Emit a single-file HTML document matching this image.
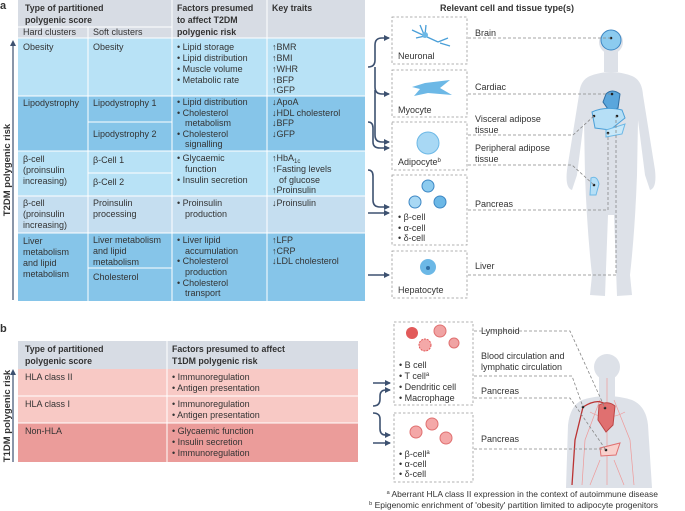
<!DOCTYPE html>
<html><head><meta charset="utf-8"><style>
html,body{margin:0;padding:0;background:#fff}
svg{display:block}
text{font-family:"Liberation Sans",sans-serif;font-size:9px;fill:#333}
.b{font-weight:bold}
.h{font-weight:bold;font-size:8.8px}
.d{stroke:#888;stroke-width:0.8;stroke-dasharray:3,2;fill:none}
.ar{stroke:#3d5170;stroke-width:1.6;fill:none}
</style></head><body>
<svg width="685" height="511" viewBox="0 0 685 511" xmlns="http://www.w3.org/2000/svg">
<defs>
<marker id="m" markerWidth="6" markerHeight="6" refX="5" refY="3" orient="auto" markerUnits="userSpaceOnUse"><path d="M0,0 L6,3 L0,6 z" fill="#3d5170"/></marker>
</defs>
<text x="0" y="9" class="b" style="font-size:11px">a</text>
<rect x="18" y="0" width="347" height="38" fill="#d7dce4"/>
<rect x="18" y="38" width="347" height="58" fill="#b8e2f6"/>
<rect x="18" y="96" width="347" height="55" fill="#86c5e9"/>
<rect x="18" y="151" width="347" height="45" fill="#b8e2f6"/>
<rect x="18" y="196" width="347" height="37" fill="#c5def0"/>
<rect x="18" y="233" width="347" height="68" fill="#86c5e9"/>
<g stroke="#fff" stroke-width="1">
<line x1="88" y1="27" x2="88" y2="301"/><line x1="172" y1="0" x2="172" y2="301"/><line x1="267" y1="0" x2="267" y2="301"/>
<line x1="18" y1="38" x2="365" y2="38"/><line x1="18" y1="96" x2="365" y2="96"/><line x1="18" y1="151" x2="365" y2="151"/><line x1="18" y1="196" x2="365" y2="196"/><line x1="18" y1="233" x2="365" y2="233"/>
<line x1="88" y1="122" x2="172" y2="122"/><line x1="88" y1="173" x2="172" y2="173"/><line x1="88" y1="268" x2="172" y2="268"/>
<line x1="18" y1="27" x2="172" y2="27"/>
</g>
<text x="25" y="11" class="h">Type of partitioned</text><text x="25" y="23" class="h">polygenic score</text>
<text x="23" y="35">Hard clusters</text><text x="93" y="35">Soft clusters</text>
<text x="177" y="11" class="h">Factors presumed</text><text x="177" y="23" class="h">to affect T2DM</text><text x="177" y="35" class="h">polygenic risk</text>
<text x="272" y="11" class="h">Key traits</text>
<g>
<text x="23" y="50">Obesity</text><text x="93" y="50">Obesity</text>
<text x="177" y="50">• Lipid storage</text><text x="177" y="61">• Lipid distribution</text><text x="177" y="72">• Muscle volume</text><text x="177" y="83">• Metabolic rate</text>
<text x="272" y="50">↑BMR</text><text x="272" y="61">↑BMI</text><text x="272" y="72">↑WHR</text><text x="272" y="83">↑BFP</text><text x="272" y="93">↑GFP</text>
<text x="23" y="106">Lipodystrophy</text><text x="93" y="106">Lipodystrophy 1</text><text x="93" y="137">Lipodystrophy 2</text>
<text x="177" y="105">• Lipid distribution</text><text x="177" y="116">• Cholesterol</text><text x="185" y="126">metabolism</text><text x="177" y="137">• Cholesterol</text><text x="185" y="147">signalling</text>
<text x="272" y="105">↓ApoA</text><text x="272" y="116">↓HDL cholesterol</text><text x="272" y="126">↓BFP</text><text x="272" y="137">↓GFP</text>
<text x="23" y="162">β-cell</text><text x="23" y="173">(proinsulin</text><text x="23" y="184">increasing)</text>
<text x="93" y="163">β-Cell 1</text><text x="93" y="185">β-Cell 2</text>
<text x="177" y="161">• Glycaemic</text><text x="185" y="172">function</text><text x="177" y="183">• Insulin secretion</text>
<text x="272" y="161">↑HbA<tspan font-size="6" dy="2">1c</tspan></text><text x="272" y="172">↑Fasting levels</text><text x="279" y="183">of glucose</text><text x="272" y="193">↑Proinsulin</text>
<text x="23" y="206">β-cell</text><text x="23" y="217">(proinsulin</text><text x="23" y="228">increasing)</text>
<text x="93" y="206">Proinsulin</text><text x="93" y="217">processing</text>
<text x="177" y="206">• Proinsulin</text><text x="185" y="217">production</text>
<text x="272" y="206">↓Proinsulin</text>
<text x="23" y="244">Liver</text><text x="23" y="255">metabolism</text><text x="23" y="266">and lipid</text><text x="23" y="277">metabolism</text>
<text x="93" y="243">Liver metabolism</text><text x="93" y="254">and lipid</text><text x="93" y="265">metabolism</text><text x="93" y="280">Cholesterol</text>
<text x="177" y="243">• Liver lipid</text><text x="185" y="254">accumulation</text><text x="177" y="264">• Cholesterol</text><text x="185" y="275">production</text><text x="177" y="286">• Cholesterol</text><text x="185" y="296">transport</text>
<text x="272" y="243">↑LFP</text><text x="272" y="254">↑CRP</text><text x="272" y="264">↓LDL cholesterol</text>
</g>
<line x1="13" y1="300" x2="13" y2="44" stroke="#3d5170" stroke-width="1.2"/><path d="M10,46 L13,40 L16,46z" fill="#3d5170"/>
<text transform="translate(10,170) rotate(-90)" text-anchor="middle" class="b" style="font-size:9.5px">T2DM polygenic risk</text>

<text x="507" y="11" text-anchor="middle" class="b" style="font-size:9px">Relevant cell and tissue type(s)</text>
<g stroke="#999" stroke-width="0.8" stroke-dasharray="2.5,2" fill="none">
<rect x="392" y="17" width="75" height="47"/><rect x="392" y="70" width="75" height="47"/><rect x="392" y="122" width="75" height="48"/><rect x="392" y="175" width="75" height="70"/><rect x="392" y="251" width="75" height="47"/>
</g>
<text x="398" y="59">Neuronal</text><text x="398" y="113">Myocyte</text><text x="398" y="165">Adipocyte<tspan font-size="6" dy="-3">b</tspan></text>
<text x="398" y="220">• β-cell</text><text x="398" y="231">• α-cell</text><text x="398" y="241">• δ-cell</text>
<text x="398" y="293">Hepatocyte</text>
<g stroke="#4a9fd8" stroke-width="1.3" fill="none"><path d="M412,30 L438,42 M420,25 L425,37 M426,25 L425,35 M438,42 L448,38 M440,43 L450,46 M416,38 L425,36"/></g>
<circle cx="425" cy="35" r="3" fill="#6cb8e6"/>
<path d="M412,87 L425,83 L450,80 L440,88 L452,95 L428,93 L414,96 L420,89z" fill="#6cb8e6"/>
<circle cx="428" cy="143" r="11" fill="#a8d8f4" stroke="#6cb8e6"/>
<circle cx="428" cy="186" r="6" fill="#8ccbef" stroke="#3d87c4"/><circle cx="415" cy="202" r="6" fill="#a8d8f4" stroke="#3d87c4"/><circle cx="440" cy="202" r="6" fill="#6cb8e6" stroke="#3d87c4"/>
<circle cx="428" cy="267" r="8" fill="#6cb8e6"/><circle cx="428" cy="268" r="2" fill="#2f6ea3"/>
<text x="475" y="36">Brain</text><text x="475" y="90">Cardiac</text><text x="475" y="122">Visceral adipose</text><text x="475" y="133">tissue</text>
<text x="475" y="151">Peripheral adipose</text><text x="475" y="162">tissue</text><text x="475" y="207">Pancreas</text><text x="475" y="269">Liver</text>
<g fill="#dde1e8">
<circle cx="611" cy="42" r="12"/><rect x="604" y="50" width="14" height="22"/>
<path d="M590,76 Q611,68 632,76 Q642,80 643,95 L655,170 Q657,188 650,190 L645,175 L638,120 L637,175 Q635,230 630,275 L632,295 L617,296 L614,215 L608,215 L605,296 L590,295 L592,275 Q587,230 585,175 L584,120 L577,175 L572,190 Q565,188 567,170 L579,95 Q580,80 590,76z"/>
</g>
<circle cx="611" cy="40" r="10" fill="#8ccbef" stroke="#3d87c4"/>
<path d="M606,94 Q612,88 620,94 L618,108 L610,112 L603,102z" fill="#5aa6dc" stroke="#2f6ea3"/>
<path d="M592,112 Q605,106 622,110 L625,118 L610,130 L595,128z" fill="#b6dff6" stroke="#4a9fd8"/>
<path d="M606,130 L625,124 L622,134 L606,137z" fill="#c9e8f8" stroke="#6cb8e6"/>
<path d="M591,178 Q597,175 599,184 L596,195 L590,195z" fill="#b6dff6" stroke="#6cb8e6"/>
<g fill="#222"><circle cx="611" cy="38" r="1.3"/><circle cx="612" cy="94" r="1.3"/><circle cx="594" cy="116" r="1.3"/><circle cx="617" cy="116" r="1.3"/><circle cx="608" cy="133" r="1.3"/><circle cx="594" cy="185" r="1.3"/></g>
<path class="d" d="M468,38 H611 M468,94 H612 M468,135 H573 L594,116 M468,165 L572,165 L594,185 M468,210 H608 V133 M468,275 H616 V116"/>
<path class="ar" d="M368,67 Q375,67 375,60 V45 Q375,38 382,38 H389" marker-end="url(#m)"/>
<path class="ar" d="M375,67 V87 Q375,94 382,94 H389" marker-end="url(#m)"/>
<path class="ar" d="M375,90 V135 Q375,142 382,142 H389" marker-end="url(#m)"/>
<path class="ar" d="M368,122 Q373,122 373,128 V142 Q373,148 380,148 H389" marker-end="url(#m)"/>
<path class="ar" d="M368,170 Q373,170 373,176 V200 Q373,207 380,207 H389" marker-end="url(#m)"/>
<path class="ar" d="M368,213 H389" marker-end="url(#m)"/>
<path class="ar" d="M368,275 H389" marker-end="url(#m)"/>

<text x="0" y="332" class="b" style="font-size:11px">b</text>
<rect x="18" y="341" width="340" height="28" fill="#d7dce4"/>
<rect x="18" y="369" width="340" height="54" fill="#f8c9c5"/>
<rect x="18" y="423" width="340" height="39" fill="#eb9c9a"/>
<g stroke="#fff" stroke-width="1"><line x1="167" y1="341" x2="167" y2="462"/><line x1="18" y1="396" x2="358" y2="396"/><line x1="18" y1="423" x2="358" y2="423"/></g>
<text x="25" y="352" class="h">Type of partitioned</text><text x="25" y="364" class="h">polygenic score</text>
<text x="172" y="352" class="h">Factors presumed to affect</text><text x="172" y="364" class="h">T1DM polygenic risk</text>
<text x="25" y="380">HLA class II</text><text x="172" y="380">• Immunoregulation</text><text x="172" y="391">• Antigen presentation</text>
<text x="25" y="407">HLA class I</text><text x="172" y="407">• Immunoregulation</text><text x="172" y="418">• Antigen presentation</text>
<text x="25" y="434">Non-HLA</text><text x="172" y="434">• Glycaemic function</text><text x="172" y="445">• Insulin secretion</text><text x="172" y="456">• Immunoregulation</text>
<line x1="13" y1="462" x2="13" y2="374" stroke="#3d5170" stroke-width="1.2"/><path d="M10,375 L13,369 L16,375z" fill="#3d5170"/>
<text transform="translate(10,416) rotate(-90)" text-anchor="middle" class="b" style="font-size:9.5px">T1DM polygenic risk</text>
<path class="ar" d="M373,383 H390" marker-end="url(#m)"/>
<path class="ar" d="M373,406 Q380,406 380,399 V396 Q380,390 386,390 H390" marker-end="url(#m)"/>
<path class="ar" d="M373,413 Q380,413 380,419 V429 Q380,435 386,435 H390" marker-end="url(#m)"/>
<path class="ar" d="M373,443 H390" marker-end="url(#m)"/>
<g stroke="#999" stroke-width="0.8" stroke-dasharray="2.5,2" fill="none"><rect x="394" y="322" width="79" height="83"/><rect x="394" y="413" width="79" height="69"/></g>
<circle cx="412" cy="333" r="6" fill="#e25a5a"/><circle cx="440" cy="331" r="6" fill="#f0a3a3" stroke="#e07070"/><circle cx="425" cy="345" r="6" fill="#f4a8a8" stroke="#e25a5a" stroke-dasharray="2,1"/><circle cx="454" cy="343" r="5" fill="#f0a3a3" stroke="#e07070"/>
<circle cx="416" cy="432" r="6" fill="#f4a8a8" stroke="#e07070"/><circle cx="432" cy="424" r="6" fill="#f4a8a8" stroke="#e07070"/><circle cx="446" cy="438" r="6" fill="#f4a8a8" stroke="#e07070"/>
<text x="399" y="368">• B cell</text><text x="399" y="379">• T cell<tspan font-size="6" dy="-3">a</tspan></text><text x="399" y="390">• Dendritic cell</text><text x="399" y="401">• Macrophage</text>
<text x="399" y="457">• β-cell<tspan font-size="6" dy="-3">a</tspan></text><text x="399" y="467">• α-cell</text><text x="399" y="477">• δ-cell</text>
<text x="481" y="334">Lymphoid</text><text x="481" y="359">Blood circulation and</text><text x="481" y="370">lymphatic circulation</text><text x="481" y="394">Pancreas</text><text x="481" y="442">Pancreas</text>
<g fill="#dde1e8"><circle cx="607" cy="367" r="13"/><rect x="599" y="375" width="16" height="24"/><path d="M582,400 Q607,392 632,400 Q646,406 648,425 L652,488 L566,488 L568,425 Q570,406 582,400z"/></g>
<g stroke="#e99" stroke-width="0.7" fill="none"><path d="M607,378 V485 M600,400 L585,440 L582,485 M614,400 L630,440 L634,485 M590,412 Q607,422 625,412 M600,460 L590,485 M614,460 L624,485"/></g>
<path d="M583,407 Q597,398 605,404 M583,407 L575,440 L572,485" stroke="#b33" stroke-width="1.3" fill="none"/>
<path d="M599,405 Q608,400 615,406 L613,425 L606,432 L598,420z" fill="#e07070" stroke="#b44"/>
<path d="M600,448 L620,443 L616,455 L601,456z" fill="#f8d0cc" stroke="#e07070"/>
<g fill="#222"><circle cx="583" cy="407" r="1.3"/><circle cx="605" cy="408" r="1.3"/><circle cx="606" cy="450" r="1.3"/></g>
<path class="d" d="M474,331 H570 L605,408 M474,376 H572 L583,407 M474,398 H570 L606,450 M474,449 H606"/>
<text x="658" y="497" text-anchor="end" style="font-size:8.5px"><tspan font-size="5.5" dy="-3">a</tspan><tspan dy="3"> Aberrant HLA class II expression in the context of autoimmune disease</tspan></text>
<text x="658" y="508" text-anchor="end" style="font-size:8.5px"><tspan font-size="5.5" dy="-3">b</tspan><tspan dy="3"> Epigenomic enrichment of 'obesity' partition limited to adipocyte progenitors</tspan></text>
</svg>
</body></html>
